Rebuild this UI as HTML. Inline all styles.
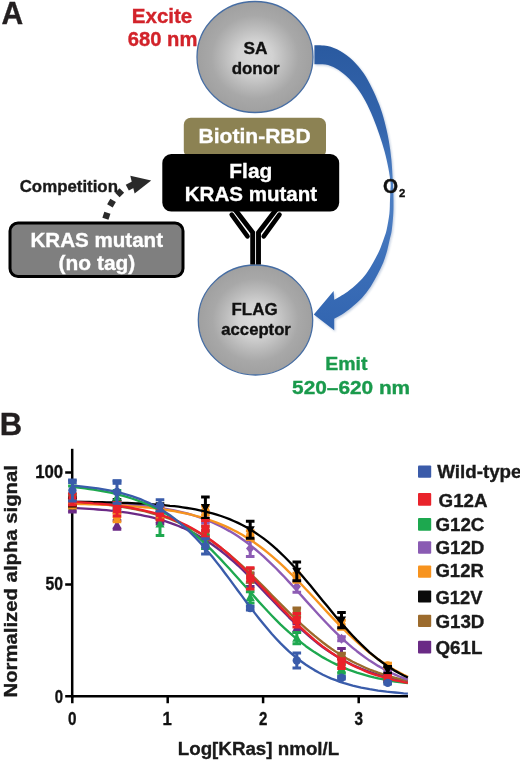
<!DOCTYPE html>
<html><head><meta charset="utf-8"><title>Figure</title>
<style>
html,body{margin:0;padding:0;background:#fff;}
svg{display:block;}
text{font-family:"Liberation Sans",Arial,Helvetica,sans-serif;font-weight:bold;}
</style></head><body>
<svg width="520" height="762" viewBox="0 0 520 762">
<defs>
<radialGradient id="bead" cx="50%" cy="50%" r="50%">
<stop offset="0" stop-color="#dadada"/><stop offset="0.3" stop-color="#d2d2d2"/><stop offset="0.55" stop-color="#bababa"/><stop offset="0.75" stop-color="#a8a8a8"/><stop offset="1" stop-color="#a0a0a0"/>
</radialGradient>
<linearGradient id="blu" gradientUnits="userSpaceOnUse" x1="0" y1="45" x2="0" y2="330">
<stop offset="0" stop-color="#2a5aa0"/><stop offset="0.3" stop-color="#3465ad"/><stop offset="0.48" stop-color="#4d80c4"/><stop offset="0.6" stop-color="#4a7cc1"/><stop offset="0.8" stop-color="#3a6db7"/><stop offset="1" stop-color="#3265b0"/>
</linearGradient>
<filter id="sh" x="-10%" y="-10%" width="120%" height="120%"><feGaussianBlur stdDeviation="1.2"/></filter>
</defs>
<rect width="520" height="762" fill="#fff"/>
<!-- Panel A -->
<text transform="translate(1.60 23.8) scale(0.939 1)" font-size="32" fill="#231f20" stroke="#231f20" stroke-width="0.35">A</text>
<text transform="translate(131.77 22.6) scale(1.028 1)" font-size="20" fill="#d2232a" stroke="#d2232a" stroke-width="0.35">Excite</text>
<text transform="translate(127.80 46.3) scale(1.010 1)" font-size="20" fill="#d2232a" stroke="#d2232a" stroke-width="0.35">680 nm</text>
<!-- blue arrow -->
<path d="M314.4 45.2 C316.6 45.3,323.2 45.0,327.5 46.0 C331.8 47.0,336.0 48.5,340.2 50.9 C344.4 53.3,349.0 56.7,352.9 60.4 C356.8 64.1,360.3 68.5,363.5 73.1 C366.7 77.7,369.3 82.6,371.9 87.9 C374.5 93.2,377.2 99.2,379.3 104.8 C381.4 110.4,383.0 115.7,384.6 121.7 C386.2 127.7,387.7 134.5,388.8 140.8 C389.9 147.2,390.8 153.5,391.4 159.8 C392.0 166.2,392.4 173.9,392.7 178.9 C393.0 183.9,393.2 186.5,393.3 190.0 C393.4 193.5,393.5 196.0,393.5 200.0 C393.5 204.0,393.6 208.8,393.3 213.8 C393.0 218.8,392.4 225.6,391.8 230.0 C391.2 234.4,390.4 236.6,389.6 240.0 C388.8 243.4,388.2 246.7,387.2 250.4 C386.1 254.2,384.9 258.5,383.3 262.5 C381.7 266.5,379.6 270.6,377.5 274.6 C375.4 278.6,373.2 282.8,370.6 286.7 C368.0 290.6,365.1 294.5,361.9 298.0 C358.7 301.5,354.8 304.8,351.5 307.5 C348.2 310.2,344.9 312.5,342.0 314.4 C339.1 316.3,335.5 318.0,334.2 318.7 L334.2 330.3 L313.8 314.5 L333.6 291.1 L334.2 299.7 C336.4 298.4,343.3 294.6,347.2 291.9 C351.1 289.2,354.4 286.3,357.6 283.3 C360.8 280.3,363.6 277.2,366.2 273.7 C368.8 270.2,371.0 266.4,373.2 262.5 C375.4 258.6,377.7 254.2,379.4 250.4 C381.1 246.7,382.2 243.4,383.4 240.0 C384.6 236.6,385.6 234.4,386.6 230.0 C387.6 225.6,388.8 218.8,389.4 213.8 C390.0 208.8,389.8 204.0,390.0 200.0 C390.2 196.0,390.3 192.8,390.4 190.0 C390.5 187.2,390.9 186.7,390.6 183.1 C390.3 179.5,389.4 173.6,388.4 168.3 C387.4 163.0,386.1 157.1,384.6 151.4 C383.1 145.8,381.2 140.1,379.3 134.4 C377.4 128.8,375.3 123.0,373.0 117.5 C370.7 112.0,368.2 106.5,365.6 101.6 C363.0 96.7,360.3 92.1,357.1 87.9 C353.9 83.7,350.0 79.5,346.5 76.3 C343.0 73.0,339.5 70.4,336.0 68.4 C332.5 66.5,329.0 65.3,325.4 64.6 C321.8 63.9,316.2 64.3,314.4 64.2 Z" fill="#2a5596" opacity="0.28" transform="translate(1.2 1.4)" filter="url(#sh)"/>
<path d="M314.4 45.2 C316.6 45.3,323.2 45.0,327.5 46.0 C331.8 47.0,336.0 48.5,340.2 50.9 C344.4 53.3,349.0 56.7,352.9 60.4 C356.8 64.1,360.3 68.5,363.5 73.1 C366.7 77.7,369.3 82.6,371.9 87.9 C374.5 93.2,377.2 99.2,379.3 104.8 C381.4 110.4,383.0 115.7,384.6 121.7 C386.2 127.7,387.7 134.5,388.8 140.8 C389.9 147.2,390.8 153.5,391.4 159.8 C392.0 166.2,392.4 173.9,392.7 178.9 C393.0 183.9,393.2 186.5,393.3 190.0 C393.4 193.5,393.5 196.0,393.5 200.0 C393.5 204.0,393.6 208.8,393.3 213.8 C393.0 218.8,392.4 225.6,391.8 230.0 C391.2 234.4,390.4 236.6,389.6 240.0 C388.8 243.4,388.2 246.7,387.2 250.4 C386.1 254.2,384.9 258.5,383.3 262.5 C381.7 266.5,379.6 270.6,377.5 274.6 C375.4 278.6,373.2 282.8,370.6 286.7 C368.0 290.6,365.1 294.5,361.9 298.0 C358.7 301.5,354.8 304.8,351.5 307.5 C348.2 310.2,344.9 312.5,342.0 314.4 C339.1 316.3,335.5 318.0,334.2 318.7 L334.2 330.3 L313.8 314.5 L333.6 291.1 L334.2 299.7 C336.4 298.4,343.3 294.6,347.2 291.9 C351.1 289.2,354.4 286.3,357.6 283.3 C360.8 280.3,363.6 277.2,366.2 273.7 C368.8 270.2,371.0 266.4,373.2 262.5 C375.4 258.6,377.7 254.2,379.4 250.4 C381.1 246.7,382.2 243.4,383.4 240.0 C384.6 236.6,385.6 234.4,386.6 230.0 C387.6 225.6,388.8 218.8,389.4 213.8 C390.0 208.8,389.8 204.0,390.0 200.0 C390.2 196.0,390.3 192.8,390.4 190.0 C390.5 187.2,390.9 186.7,390.6 183.1 C390.3 179.5,389.4 173.6,388.4 168.3 C387.4 163.0,386.1 157.1,384.6 151.4 C383.1 145.8,381.2 140.1,379.3 134.4 C377.4 128.8,375.3 123.0,373.0 117.5 C370.7 112.0,368.2 106.5,365.6 101.6 C363.0 96.7,360.3 92.1,357.1 87.9 C353.9 83.7,350.0 79.5,346.5 76.3 C343.0 73.0,339.5 70.4,336.0 68.4 C332.5 66.5,329.0 65.3,325.4 64.6 C321.8 63.9,316.2 64.3,314.4 64.2 Z" fill="url(#blu)"/>
<!-- beads -->
<ellipse cx="255" cy="57" rx="58" ry="55.5" fill="url(#bead)" stroke="#466da3" stroke-width="1.3"/>
<ellipse cx="255.5" cy="320" rx="57.2" ry="55" fill="url(#bead)" stroke="#466da3" stroke-width="1.3"/>
<text transform="translate(243.40 53.8) scale(1.030 1)" font-size="16.8" fill="#111" stroke="#111" stroke-width="0.35">SA</text>
<text transform="translate(231.70 74) scale(1.006 1)" font-size="16.8" fill="#111" stroke="#111" stroke-width="0.35">donor</text>
<text transform="translate(231.49 314.5) scale(1.009 1)" font-size="16.8" fill="#111" stroke="#111" stroke-width="0.35">FLAG</text>
<text transform="translate(221.30 335) scale(0.994 1)" font-size="16.8" fill="#111" stroke="#111" stroke-width="0.35">acceptor</text>
<!-- antibody -->
<g stroke="#000" stroke-width="4.9" fill="none">
<path d="M234.6 209 L252.7 232.5 V264.5"/>
<path d="M276.6 209 L258.5 232.5 V264.5"/>
<path d="M231.7 214.6 L247.5 236.4" stroke-linecap="round" stroke-width="4.6"/>
<path d="M279.5 214.6 L263.7 236.4" stroke-linecap="round" stroke-width="4.6"/>
</g>
<!-- boxes -->
<rect x="183.8" y="117.7" width="142.2" height="40" rx="7" fill="#8c8253"/>
<text transform="translate(198.55 142.8) scale(1.053 1)" font-size="20" fill="#fff" stroke="#fff" stroke-width="0.35">Biotin-RBD</text>
<rect x="162.3" y="154" width="176.9" height="57.6" rx="9" fill="#000"/>
<text transform="translate(229.36 178.2) scale(1.044 1)" font-size="20" fill="#fff" stroke="#fff" stroke-width="0.35">Flag</text>
<text transform="translate(184.77 201.2) scale(1.027 1)" font-size="20" fill="#fff" stroke="#fff" stroke-width="0.35">KRAS mutant</text>
<rect x="10" y="223" width="173" height="53.5" rx="8" fill="#7f7f7f" stroke="#000" stroke-width="3"/>
<text transform="translate(30.47 246.6) scale(1.029 1)" font-size="20" fill="#fff" stroke="#fff" stroke-width="0.35">KRAS mutant</text>
<text transform="translate(58.55 269.6) scale(1.047 1)" font-size="20" fill="#fff" stroke="#fff" stroke-width="0.35">(no tag)</text>
<text transform="translate(19.70 192.2) scale(1.015 1)" font-size="16.6" fill="#1a1a1a" stroke="#1a1a1a" stroke-width="0.35">Competition</text>
<!-- dotted arrow -->
<g fill="#2a2a2a">
<rect x="-3.2" y="-3.2" width="6.4" height="6.4" transform="translate(106.4 215.7) rotate(-72)"/>
<rect x="-3.2" y="-3.2" width="6.4" height="6.4" transform="translate(111.5 203.2) rotate(-60)"/>
<rect x="-3.2" y="-3.2" width="6.4" height="6.4" transform="translate(119.6 192.7) rotate(-45)"/>
</g>
<path d="M127.3 187.7 L134 184.2" stroke="#2a2a2a" stroke-width="6.6" fill="none"/>
<path d="M151.2 180.4 L130.3 175.8 L134.6 193.5 Z" fill="#2a2a2a"/>
<text transform="translate(382.90 192.8) scale(0.987 1)" font-size="19.6" fill="#111" stroke="#111" stroke-width="0.35">O</text>
<text transform="translate(399.00 197.4) scale(0.971 1)" font-size="11.7" fill="#111" stroke="#111" stroke-width="0.35">2</text>
<text transform="translate(325.26 369.6) scale(1.038 1)" font-size="18.8" fill="#1a9a4c" stroke="#1a9a4c" stroke-width="0.35">Emit</text>
<text transform="translate(292.10 393.9) scale(1.107 1)" font-size="18.8" fill="#1a9a4c" stroke="#1a9a4c" stroke-width="0.35">520–620 nm</text>
<!-- Panel B -->
<text transform="translate(-0.27 434.5) scale(0.985 1)" font-size="31.5" fill="#231f20" stroke="#231f20" stroke-width="0.35">B</text>
<!-- axes -->
<g stroke="#000" stroke-width="2.5" fill="none">
<path d="M72.2 448.8V697.5"/>
<path d="M71 696.3H408"/>
<path d="M65.2 472.5H72.3M65.2 584.5H72.3M65.2 696.3H72.3"/>
<path d="M72.3 696.3V703.2M167.7 696.3V703.2M263.1 696.3V703.2M358.7 696.3V703.2"/>
</g>
<g>
<path d="M72.3 508.0 L76.5 508.2 L80.8 508.4 L85.0 508.6 L89.3 508.9 L93.5 509.2 L97.8 509.5 L102.0 509.8 L106.3 510.2 L110.5 510.6 L114.8 511.1 L119.0 511.6 L123.3 512.1 L127.5 512.7 L131.8 513.4 L136.0 514.1 L140.3 514.9 L144.5 515.8 L148.8 516.7 L153.0 517.7 L157.3 518.8 L161.5 520.0 L165.8 521.4 L170.0 522.8 L174.2 524.3 L178.5 526.0 L182.7 527.8 L187.0 529.8 L191.2 531.9 L195.5 534.1 L199.7 536.5 L204.0 539.1 L208.2 541.8 L212.5 544.7 L216.7 547.8 L221.0 551.0 L225.2 554.4 L229.5 558.0 L233.7 561.7 L238.0 565.5 L242.2 569.5 L246.5 573.6 L250.7 577.8 L255.0 582.1 L259.2 586.5 L263.5 590.9 L267.7 595.4 L271.9 599.8 L276.2 604.3 L280.4 608.7 L284.7 613.0 L288.9 617.3 L293.2 621.5 L297.4 625.6 L301.7 629.6 L305.9 633.4 L310.2 637.1 L314.4 640.6 L318.7 644.0 L322.9 647.2 L327.2 650.2 L331.4 653.1 L335.7 655.8 L339.9 658.3 L344.2 660.7 L348.4 662.9 L352.7 665.0 L356.9 666.9 L361.2 668.7 L365.4 670.3 L369.6 671.9 L373.9 673.3 L378.1 674.6 L382.4 675.8 L386.6 676.9 L390.9 677.9 L395.1 678.8 L399.4 679.6 L403.6 680.4 L407.9 681.1" fill="none" stroke="#6b2a86" stroke-width="2.35" stroke-linejoin="round"/>
<path d="M72.4 503.2V512.1M68.1 503.2h8.6M68.1 512.1h8.6" stroke="#6b2a86" stroke-width="3" fill="none"/>
<path d="M72.4 503.0L77.0 511.2L67.8 511.2Z" fill="#6b2a86"/>
<path d="M117.0 520.4V529.3M112.7 520.4h8.6M112.7 529.3h8.6" stroke="#6b2a86" stroke-width="3" fill="none"/>
<path d="M117.0 520.3L121.6 528.5L112.4 528.5Z" fill="#6b2a86"/>
<path d="M160.0 515.0V524.0M155.7 515.0h8.6M155.7 524.0h8.6" stroke="#6b2a86" stroke-width="3" fill="none"/>
<path d="M160.0 514.9L164.6 523.1L155.4 523.1Z" fill="#6b2a86"/>
<path d="M205.4 530.7V539.6M201.1 530.7h8.6M201.1 539.6h8.6" stroke="#6b2a86" stroke-width="3" fill="none"/>
<path d="M205.4 530.6L210.0 538.8L200.8 538.8Z" fill="#6b2a86"/>
<path d="M250.2 573.2V586.6M245.9 573.2h8.6M245.9 586.6h8.6" stroke="#6b2a86" stroke-width="3" fill="none"/>
<path d="M250.2 575.3L254.8 583.5L245.6 583.5Z" fill="#6b2a86"/>
<path d="M296.8 623.6V632.5M292.5 623.6h8.6M292.5 632.5h8.6" stroke="#6b2a86" stroke-width="3" fill="none"/>
<path d="M296.8 623.4L301.4 631.6L292.2 631.6Z" fill="#6b2a86"/>
<path d="M341.5 648.4V659.1M337.2 648.4h8.6M337.2 659.1h8.6" stroke="#6b2a86" stroke-width="3" fill="none"/>
<path d="M341.5 649.2L346.1 657.4L336.9 657.4Z" fill="#6b2a86"/>
<path d="M387.7 675.0V679.5M383.4 675.0h8.6M383.4 679.5h8.6" stroke="#6b2a86" stroke-width="3" fill="none"/>
<path d="M387.7 672.7L392.3 680.9L383.1 680.9Z" fill="#6b2a86"/>
<path d="M72.3 501.9 L76.5 502.2 L80.8 502.5 L85.0 502.8 L89.3 503.1 L93.5 503.4 L97.8 503.8 L102.0 504.3 L106.3 504.7 L110.5 505.2 L114.8 505.8 L119.0 506.4 L123.3 507.0 L127.5 507.8 L131.8 508.5 L136.0 509.4 L140.3 510.3 L144.5 511.2 L148.8 512.3 L153.0 513.5 L157.3 514.7 L161.5 516.0 L165.8 517.5 L170.0 519.0 L174.2 520.7 L178.5 522.5 L182.7 524.4 L187.0 526.4 L191.2 528.6 L195.5 530.9 L199.7 533.3 L204.0 535.9 L208.2 538.7 L212.5 541.6 L216.7 544.7 L221.0 547.9 L225.2 551.2 L229.5 554.7 L233.7 558.3 L238.0 562.1 L242.2 565.9 L246.5 569.9 L250.7 574.0 L255.0 578.1 L259.2 582.3 L263.5 586.6 L267.7 590.9 L271.9 595.2 L276.2 599.5 L280.4 603.8 L284.7 608.1 L288.9 612.3 L293.2 616.5 L297.4 620.5 L301.7 624.5 L305.9 628.3 L310.2 632.1 L314.4 635.7 L318.7 639.1 L322.9 642.5 L327.2 645.7 L331.4 648.7 L335.7 651.6 L339.9 654.3 L344.2 656.9 L348.4 659.4 L352.7 661.7 L356.9 663.8 L361.2 665.8 L365.4 667.7 L369.6 669.5 L373.9 671.2 L378.1 672.7 L382.4 674.1 L386.6 675.5 L390.9 676.7 L395.1 677.8 L399.4 678.9 L403.6 679.8 L407.9 680.7" fill="none" stroke="#9a6a2c" stroke-width="2.35" stroke-linejoin="round"/>
<path d="M72.4 499.4V508.3M68.1 499.4h8.6M68.1 508.3h8.6" stroke="#9a6a2c" stroke-width="3" fill="none"/>
<rect x="68.4" y="499.8" width="8" height="8" fill="#9a6a2c"/>
<path d="M117.0 503.8V512.8M112.7 503.8h8.6M112.7 512.8h8.6" stroke="#9a6a2c" stroke-width="3" fill="none"/>
<rect x="113.0" y="504.3" width="8" height="8" fill="#9a6a2c"/>
<path d="M160.0 510.5V519.5M155.7 510.5h8.6M155.7 519.5h8.6" stroke="#9a6a2c" stroke-width="3" fill="none"/>
<rect x="156.0" y="511.0" width="8" height="8" fill="#9a6a2c"/>
<path d="M205.4 526.2V539.6M201.1 526.2h8.6M201.1 539.6h8.6" stroke="#9a6a2c" stroke-width="3" fill="none"/>
<rect x="201.4" y="528.9" width="8" height="8" fill="#9a6a2c"/>
<path d="M250.2 568.7V582.2M245.9 568.7h8.6M245.9 582.2h8.6" stroke="#9a6a2c" stroke-width="3" fill="none"/>
<rect x="246.2" y="571.4" width="8" height="8" fill="#9a6a2c"/>
<path d="M296.8 607.9V616.9M292.5 607.9h8.6M292.5 616.9h8.6" stroke="#9a6a2c" stroke-width="3" fill="none"/>
<rect x="292.8" y="608.4" width="8" height="8" fill="#9a6a2c"/>
<path d="M341.5 653.3V658.7M337.2 653.3h8.6M337.2 658.7h8.6" stroke="#9a6a2c" stroke-width="3" fill="none"/>
<rect x="337.5" y="652.0" width="8" height="8" fill="#9a6a2c"/>
<path d="M387.7 673.9V678.4M383.4 673.9h8.6M383.4 678.4h8.6" stroke="#9a6a2c" stroke-width="3" fill="none"/>
<rect x="383.7" y="672.2" width="8" height="8" fill="#9a6a2c"/>
<path d="M72.3 501.8 L76.5 501.9 L80.8 502.0 L85.0 502.1 L89.3 502.3 L93.5 502.4 L97.8 502.6 L102.0 502.8 L106.3 503.0 L110.5 503.2 L114.8 503.4 L119.0 503.7 L123.3 503.9 L127.5 504.3 L131.8 504.6 L136.0 505.0 L140.3 505.4 L144.5 505.9 L148.8 506.4 L153.0 506.9 L157.3 507.5 L161.5 508.1 L165.8 508.9 L170.0 509.6 L174.2 510.5 L178.5 511.4 L182.7 512.4 L187.0 513.5 L191.2 514.7 L195.5 516.0 L199.7 517.5 L204.0 519.0 L208.2 520.6 L212.5 522.4 L216.7 524.4 L221.0 526.4 L225.2 528.7 L229.5 531.1 L233.7 533.6 L238.0 536.3 L242.2 539.2 L246.5 542.3 L250.7 545.6 L255.0 549.0 L259.2 552.6 L263.5 556.3 L267.7 560.3 L271.9 564.3 L276.2 568.5 L280.4 572.9 L284.7 577.3 L288.9 581.9 L293.2 586.5 L297.4 591.2 L301.7 595.9 L305.9 600.6 L310.2 605.4 L314.4 610.0 L318.7 614.7 L322.9 619.2 L327.2 623.7 L331.4 628.1 L335.7 632.3 L339.9 636.4 L344.2 640.4 L348.4 644.2 L352.7 647.8 L356.9 651.2 L361.2 654.5 L365.4 657.6 L369.6 660.6 L373.9 663.3 L378.1 665.9 L382.4 668.3 L386.6 670.6 L390.9 672.7 L395.1 674.6 L399.4 676.5 L403.6 678.1 L407.9 679.7" fill="none" stroke="#8d5cb4" stroke-width="2.35" stroke-linejoin="round"/>
<path d="M72.4 497.1V506.1M68.1 497.1h8.6M68.1 506.1h8.6" stroke="#8d5cb4" stroke-width="3" fill="none"/>
<path d="M72.4 496.6L76.6 501.6L72.4 506.6L68.2 501.6Z" fill="#8d5cb4"/>
<path d="M117.0 501.6V510.5M112.7 501.6h8.6M112.7 510.5h8.6" stroke="#8d5cb4" stroke-width="3" fill="none"/>
<path d="M117.0 501.1L121.2 506.1L117.0 511.1L112.8 506.1Z" fill="#8d5cb4"/>
<path d="M160.0 506.1V515.0M155.7 506.1h8.6M155.7 515.0h8.6" stroke="#8d5cb4" stroke-width="3" fill="none"/>
<path d="M160.0 505.5L164.2 510.5L160.0 515.5L155.8 510.5Z" fill="#8d5cb4"/>
<path d="M205.4 511.7V522.9M201.1 511.7h8.6M201.1 522.9h8.6" stroke="#8d5cb4" stroke-width="3" fill="none"/>
<path d="M205.4 512.3L209.6 517.3L205.4 522.3L201.2 517.3Z" fill="#8d5cb4"/>
<path d="M250.2 540.8V556.4M245.9 540.8h8.6M245.9 556.4h8.6" stroke="#8d5cb4" stroke-width="3" fill="none"/>
<path d="M250.2 543.6L254.4 548.6L250.2 553.6L246.0 548.6Z" fill="#8d5cb4"/>
<path d="M296.8 581.0V592.2M292.5 581.0h8.6M292.5 592.2h8.6" stroke="#8d5cb4" stroke-width="3" fill="none"/>
<path d="M296.8 581.6L301.0 586.6L296.8 591.6L292.6 586.6Z" fill="#8d5cb4"/>
<path d="M341.5 636.8V640.8M337.2 636.8h8.6M337.2 640.8h8.6" stroke="#8d5cb4" stroke-width="3" fill="none"/>
<path d="M341.5 633.8L345.7 638.8L341.5 643.8L337.3 638.8Z" fill="#8d5cb4"/>
<path d="M387.7 671.0V674.6M383.4 671.0h8.6M383.4 674.6h8.6" stroke="#8d5cb4" stroke-width="3" fill="none"/>
<path d="M387.7 667.8L391.9 672.8L387.7 677.8L383.5 672.8Z" fill="#8d5cb4"/>
<path d="M72.3 503.8 L76.5 503.9 L80.8 504.0 L85.0 504.1 L89.3 504.3 L93.5 504.4 L97.8 504.5 L102.0 504.7 L106.3 504.9 L110.5 505.0 L114.8 505.2 L119.0 505.5 L123.3 505.7 L127.5 506.0 L131.8 506.3 L136.0 506.6 L140.3 506.9 L144.5 507.3 L148.8 507.7 L153.0 508.2 L157.3 508.7 L161.5 509.2 L165.8 509.8 L170.0 510.5 L174.2 511.2 L178.5 512.0 L182.7 512.8 L187.0 513.7 L191.2 514.7 L195.5 515.8 L199.7 516.9 L204.0 518.2 L208.2 519.5 L212.5 521.0 L216.7 522.6 L221.0 524.3 L225.2 526.1 L229.5 528.1 L233.7 530.2 L238.0 532.4 L242.2 534.8 L246.5 537.4 L250.7 540.1 L255.0 543.0 L259.2 546.0 L263.5 549.3 L267.7 552.6 L271.9 556.2 L276.2 559.8 L280.4 563.7 L284.7 567.7 L288.9 571.8 L293.2 576.0 L297.4 580.3 L301.7 584.7 L305.9 589.2 L310.2 593.8 L314.4 598.3 L318.7 602.9 L322.9 607.5 L327.2 612.1 L331.4 616.6 L335.7 621.1 L339.9 625.5 L344.2 629.7 L348.4 633.9 L352.7 638.0 L356.9 641.9 L361.2 645.7 L365.4 649.3 L369.6 652.8 L373.9 656.1 L378.1 659.2 L382.4 662.2 L386.6 665.0 L390.9 667.7 L395.1 670.2 L399.4 672.5 L403.6 674.7 L407.9 676.8" fill="none" stroke="#f7941e" stroke-width="2.35" stroke-linejoin="round"/>
<path d="M72.4 502.7V507.2M68.1 502.7h8.6M68.1 507.2h8.6" stroke="#f7941e" stroke-width="3" fill="none"/>
<circle cx="72.4" cy="505.0" r="4.2" fill="#f7941e"/>
<path d="M117.0 512.8V521.7M112.7 512.8h8.6M112.7 521.7h8.6" stroke="#f7941e" stroke-width="3" fill="none"/>
<circle cx="117.0" cy="517.3" r="4.2" fill="#f7941e"/>
<path d="M160.0 508.3V517.3M155.7 508.3h8.6M155.7 517.3h8.6" stroke="#f7941e" stroke-width="3" fill="none"/>
<circle cx="160.0" cy="512.8" r="4.2" fill="#f7941e"/>
<path d="M205.4 506.1V515.0M201.1 506.1h8.6M201.1 515.0h8.6" stroke="#f7941e" stroke-width="3" fill="none"/>
<circle cx="205.4" cy="510.5" r="4.2" fill="#f7941e"/>
<path d="M250.2 530.7V539.6M245.9 530.7h8.6M245.9 539.6h8.6" stroke="#f7941e" stroke-width="3" fill="none"/>
<circle cx="250.2" cy="535.2" r="4.2" fill="#f7941e"/>
<path d="M296.8 573.2V582.2M292.5 573.2h8.6M292.5 582.2h8.6" stroke="#f7941e" stroke-width="3" fill="none"/>
<circle cx="296.8" cy="577.7" r="4.2" fill="#f7941e"/>
<path d="M341.5 620.2V629.2M337.2 620.2h8.6M337.2 629.2h8.6" stroke="#f7941e" stroke-width="3" fill="none"/>
<circle cx="341.5" cy="624.7" r="4.2" fill="#f7941e"/>
<path d="M387.7 663.2V667.7M383.4 663.2h8.6M383.4 667.7h8.6" stroke="#f7941e" stroke-width="3" fill="none"/>
<circle cx="387.7" cy="665.4" r="4.2" fill="#f7941e"/>
<path d="M72.3 501.8 L76.5 501.9 L80.8 501.9 L85.0 502.0 L89.3 502.0 L93.5 502.1 L97.8 502.2 L102.0 502.2 L106.3 502.3 L110.5 502.4 L114.8 502.5 L119.0 502.7 L123.3 502.8 L127.5 502.9 L131.8 503.1 L136.0 503.3 L140.3 503.5 L144.5 503.7 L148.8 504.0 L153.0 504.3 L157.3 504.6 L161.5 504.9 L165.8 505.3 L170.0 505.8 L174.2 506.2 L178.5 506.7 L182.7 507.3 L187.0 508.0 L191.2 508.7 L195.5 509.4 L199.7 510.3 L204.0 511.2 L208.2 512.3 L212.5 513.4 L216.7 514.7 L221.0 516.0 L225.2 517.5 L229.5 519.2 L233.7 521.0 L238.0 522.9 L242.2 525.0 L246.5 527.3 L250.7 529.8 L255.0 532.5 L259.2 535.4 L263.5 538.4 L267.7 541.7 L271.9 545.2 L276.2 548.9 L280.4 552.9 L284.7 557.0 L288.9 561.3 L293.2 565.8 L297.4 570.5 L301.7 575.3 L305.9 580.3 L310.2 585.3 L314.4 590.5 L318.7 595.7 L322.9 600.9 L327.2 606.1 L331.4 611.3 L335.7 616.4 L339.9 621.4 L344.2 626.3 L348.4 631.1 L352.7 635.7 L356.9 640.1 L361.2 644.4 L365.4 648.4 L369.6 652.3 L373.9 655.9 L378.1 659.3 L382.4 662.5 L386.6 665.5 L390.9 668.3 L395.1 670.9 L399.4 673.3 L403.6 675.5 L407.9 677.5" fill="none" stroke="#000000" stroke-width="2.35" stroke-linejoin="round"/>
<path d="M72.4 497.1V506.1M68.1 497.1h8.6M68.1 506.1h8.6" stroke="#000000" stroke-width="3" fill="none"/>
<path d="M72.4 506.2L77.0 498.0L67.8 498.0Z" fill="#000000"/>
<path d="M117.0 499.4V508.3M112.7 499.4h8.6M112.7 508.3h8.6" stroke="#000000" stroke-width="3" fill="none"/>
<path d="M117.0 508.4L121.6 500.2L112.4 500.2Z" fill="#000000"/>
<path d="M160.0 503.8V512.8M155.7 503.8h8.6M155.7 512.8h8.6" stroke="#000000" stroke-width="3" fill="none"/>
<path d="M160.0 512.9L164.6 504.7L155.4 504.7Z" fill="#000000"/>
<path d="M205.4 496.9V518.4M201.1 496.9h8.6M201.1 518.4h8.6" stroke="#000000" stroke-width="3" fill="none"/>
<path d="M205.4 512.2L210.0 504.0L200.8 504.0Z" fill="#000000"/>
<path d="M250.2 521.3V538.3M245.9 521.3h8.6M245.9 538.3h8.6" stroke="#000000" stroke-width="3" fill="none"/>
<path d="M250.2 534.4L254.8 526.2L245.6 526.2Z" fill="#000000"/>
<path d="M296.8 562.0V580.8M292.5 562.0h8.6M292.5 580.8h8.6" stroke="#000000" stroke-width="3" fill="none"/>
<path d="M296.8 576.0L301.4 567.8L292.2 567.8Z" fill="#000000"/>
<path d="M341.5 612.6V627.8M337.2 612.6h8.6M337.2 627.8h8.6" stroke="#000000" stroke-width="3" fill="none"/>
<path d="M341.5 624.8L346.1 616.6L336.9 616.6Z" fill="#000000"/>
<path d="M387.7 666.5V673.2M383.4 666.5h8.6M383.4 673.2h8.6" stroke="#000000" stroke-width="3" fill="none"/>
<path d="M387.7 674.5L392.3 666.3L383.1 666.3Z" fill="#000000"/>
<path d="M72.3 486.9 L76.5 487.4 L80.8 487.9 L85.0 488.4 L89.3 489.0 L93.5 489.6 L97.8 490.3 L102.0 491.0 L106.3 491.9 L110.5 492.7 L114.8 493.7 L119.0 494.8 L123.3 495.9 L127.5 497.1 L131.8 498.5 L136.0 499.9 L140.3 501.5 L144.5 503.1 L148.8 504.9 L153.0 506.9 L157.3 509.0 L161.5 511.2 L165.8 513.6 L170.0 516.2 L174.2 518.9 L178.5 521.8 L182.7 524.8 L187.0 528.0 L191.2 531.4 L195.5 535.0 L199.7 538.7 L204.0 542.6 L208.2 546.7 L212.5 550.9 L216.7 555.2 L221.0 559.6 L225.2 564.2 L229.5 568.8 L233.7 573.5 L238.0 578.3 L242.2 583.0 L246.5 587.8 L250.7 592.6 L255.0 597.4 L259.2 602.1 L263.5 606.7 L267.7 611.3 L271.9 615.7 L276.2 620.1 L280.4 624.3 L284.7 628.3 L288.9 632.2 L293.2 635.9 L297.4 639.5 L301.7 642.9 L305.9 646.2 L310.2 649.2 L314.4 652.1 L318.7 654.8 L322.9 657.4 L327.2 659.8 L331.4 662.0 L335.7 664.1 L339.9 666.1 L344.2 667.9 L348.4 669.6 L352.7 671.1 L356.9 672.6 L361.2 673.9 L365.4 675.2 L369.6 676.3 L373.9 677.4 L378.1 678.3 L382.4 679.2 L386.6 680.0 L390.9 680.8 L395.1 681.5 L399.4 682.1 L403.6 682.7 L407.9 683.2" fill="none" stroke="#1ea84f" stroke-width="2.35" stroke-linejoin="round"/>
<path d="M72.4 485.9V494.9M68.1 485.9h8.6M68.1 494.9h8.6" stroke="#1ea84f" stroke-width="3" fill="none"/>
<path d="M72.4 485.8L77.0 494.0L67.8 494.0Z" fill="#1ea84f"/>
<path d="M117.0 490.4V503.8M112.7 490.4h8.6M112.7 503.8h8.6" stroke="#1ea84f" stroke-width="3" fill="none"/>
<path d="M117.0 492.5L121.6 500.7L112.4 500.7Z" fill="#1ea84f"/>
<path d="M160.0 512.6V535.4M155.7 512.6h8.6M155.7 535.4h8.6" stroke="#1ea84f" stroke-width="3" fill="none"/>
<path d="M160.0 519.4L164.6 527.6L155.4 527.6Z" fill="#1ea84f"/>
<path d="M205.4 535.2V548.6M201.1 535.2h8.6M201.1 548.6h8.6" stroke="#1ea84f" stroke-width="3" fill="none"/>
<path d="M205.4 537.3L210.0 545.5L200.8 545.5Z" fill="#1ea84f"/>
<path d="M250.2 591.8V603.0M245.9 591.8h8.6M245.9 603.0h8.6" stroke="#1ea84f" stroke-width="3" fill="none"/>
<path d="M250.2 592.8L254.8 601.0L245.6 601.0Z" fill="#1ea84f"/>
<path d="M296.8 632.5V643.7M292.5 632.5h8.6M292.5 643.7h8.6" stroke="#1ea84f" stroke-width="3" fill="none"/>
<path d="M296.8 633.5L301.4 641.7L292.2 641.7Z" fill="#1ea84f"/>
<path d="M341.5 664.3V673.2M337.2 664.3h8.6M337.2 673.2h8.6" stroke="#1ea84f" stroke-width="3" fill="none"/>
<path d="M341.5 664.2L346.1 672.4L336.9 672.4Z" fill="#1ea84f"/>
<path d="M387.7 677.3V681.8M383.4 677.3h8.6M383.4 681.8h8.6" stroke="#1ea84f" stroke-width="3" fill="none"/>
<path d="M387.7 674.9L392.3 683.1L383.1 683.1Z" fill="#1ea84f"/>
<path d="M72.3 501.9 L76.5 502.1 L80.8 502.4 L85.0 502.6 L89.3 502.9 L93.5 503.3 L97.8 503.6 L102.0 504.0 L106.3 504.4 L110.5 504.9 L114.8 505.4 L119.0 506.0 L123.3 506.6 L127.5 507.2 L131.8 508.0 L136.0 508.8 L140.3 509.6 L144.5 510.6 L148.8 511.6 L153.0 512.7 L157.3 513.9 L161.5 515.2 L165.8 516.6 L170.0 518.2 L174.2 519.8 L178.5 521.6 L182.7 523.5 L187.0 525.6 L191.2 527.8 L195.5 530.2 L199.7 532.7 L204.0 535.4 L208.2 538.3 L212.5 541.3 L216.7 544.5 L221.0 547.8 L225.2 551.3 L229.5 555.0 L233.7 558.8 L238.0 562.8 L242.2 566.9 L246.5 571.1 L250.7 575.4 L255.0 579.8 L259.2 584.3 L263.5 588.8 L267.7 593.3 L271.9 597.9 L276.2 602.4 L280.4 606.9 L284.7 611.4 L288.9 615.8 L293.2 620.1 L297.4 624.3 L301.7 628.4 L305.9 632.3 L310.2 636.1 L314.4 639.8 L318.7 643.3 L322.9 646.6 L327.2 649.8 L331.4 652.8 L335.7 655.6 L339.9 658.3 L344.2 660.8 L348.4 663.2 L352.7 665.4 L356.9 667.4 L361.2 669.3 L365.4 671.1 L369.6 672.8 L373.9 674.3 L378.1 675.7 L382.4 677.0 L386.6 678.2 L390.9 679.3 L395.1 680.3 L399.4 681.2 L403.6 682.1 L407.9 682.9" fill="none" stroke="#ea212b" stroke-width="2.35" stroke-linejoin="round"/>
<path d="M72.4 493.8V505.0M68.1 493.8h8.6M68.1 505.0h8.6" stroke="#ea212b" stroke-width="3" fill="none"/>
<rect x="68.4" y="495.4" width="8" height="8" fill="#ea212b"/>
<path d="M117.0 502.5V515.9M112.7 502.5h8.6M112.7 515.9h8.6" stroke="#ea212b" stroke-width="3" fill="none"/>
<rect x="113.0" y="505.2" width="8" height="8" fill="#ea212b"/>
<path d="M160.0 506.5V519.9M155.7 506.5h8.6M155.7 519.9h8.6" stroke="#ea212b" stroke-width="3" fill="none"/>
<rect x="156.0" y="509.2" width="8" height="8" fill="#ea212b"/>
<path d="M205.4 520.4V537.0M201.1 520.4h8.6M201.1 537.0h8.6" stroke="#ea212b" stroke-width="3" fill="none"/>
<rect x="201.4" y="524.7" width="8" height="8" fill="#ea212b"/>
<path d="M250.2 567.8V588.9M245.9 567.8h8.6M245.9 588.9h8.6" stroke="#ea212b" stroke-width="3" fill="none"/>
<rect x="246.2" y="574.4" width="8" height="8" fill="#ea212b"/>
<path d="M296.8 613.5V626.9M292.5 613.5h8.6M292.5 626.9h8.6" stroke="#ea212b" stroke-width="3" fill="none"/>
<rect x="292.8" y="616.2" width="8" height="8" fill="#ea212b"/>
<path d="M341.5 658.7V668.5M337.2 658.7h8.6M337.2 668.5h8.6" stroke="#ea212b" stroke-width="3" fill="none"/>
<rect x="337.5" y="659.6" width="8" height="8" fill="#ea212b"/>
<path d="M387.7 675.7V681.1M383.4 675.7h8.6M383.4 681.1h8.6" stroke="#ea212b" stroke-width="3" fill="none"/>
<rect x="383.7" y="674.4" width="8" height="8" fill="#ea212b"/>
<path d="M72.3 485.6 L76.5 485.9 L80.8 486.3 L85.0 486.8 L89.3 487.3 L93.5 487.8 L97.8 488.4 L102.0 489.1 L106.3 489.8 L110.5 490.6 L114.8 491.5 L119.0 492.5 L123.3 493.6 L127.5 494.8 L131.8 496.1 L136.0 497.6 L140.3 499.2 L144.5 501.0 L148.8 502.9 L153.0 505.0 L157.3 507.2 L161.5 509.7 L165.8 512.4 L170.0 515.3 L174.2 518.4 L178.5 521.8 L182.7 525.4 L187.0 529.2 L191.2 533.3 L195.5 537.6 L199.7 542.1 L204.0 546.9 L208.2 551.9 L212.5 557.0 L216.7 562.4 L221.0 567.8 L225.2 573.5 L229.5 579.1 L233.7 584.9 L238.0 590.7 L242.2 596.4 L246.5 602.2 L250.7 607.8 L255.0 613.4 L259.2 618.8 L263.5 624.1 L267.7 629.1 L271.9 634.0 L276.2 638.7 L280.4 643.1 L284.7 647.3 L288.9 651.3 L293.2 655.0 L297.4 658.5 L301.7 661.7 L305.9 664.7 L310.2 667.5 L314.4 670.1 L318.7 672.5 L322.9 674.7 L327.2 676.7 L331.4 678.6 L335.7 680.2 L339.9 681.8 L344.2 683.2 L348.4 684.4 L352.7 685.6 L356.9 686.6 L361.2 687.6 L365.4 688.4 L369.6 689.2 L373.9 689.9 L378.1 690.6 L382.4 691.1 L386.6 691.7 L390.9 692.1 L395.1 692.5 L399.4 692.9 L403.6 693.3 L407.9 693.6" fill="none" stroke="#3a5caa" stroke-width="2.35" stroke-linejoin="round"/>
<path d="M72.4 479.9V500.9M68.1 479.9h8.6M68.1 500.9h8.6" stroke="#3a5caa" stroke-width="3" fill="none"/>
<circle cx="72.4" cy="490.4" r="4.2" fill="#3a5caa"/>
<path d="M117.0 480.8V503.2M112.7 480.8h8.6M112.7 503.2h8.6" stroke="#3a5caa" stroke-width="3" fill="none"/>
<circle cx="117.0" cy="492.0" r="4.2" fill="#3a5caa"/>
<path d="M160.0 499.8V511.0M155.7 499.8h8.6M155.7 511.0h8.6" stroke="#3a5caa" stroke-width="3" fill="none"/>
<circle cx="160.0" cy="505.4" r="4.2" fill="#3a5caa"/>
<path d="M205.4 538.7V554.0M201.1 538.7h8.6M201.1 554.0h8.6" stroke="#3a5caa" stroke-width="3" fill="none"/>
<circle cx="205.4" cy="546.4" r="4.2" fill="#3a5caa"/>
<path d="M250.2 606.3V609.9M245.9 606.3h8.6M245.9 609.9h8.6" stroke="#3a5caa" stroke-width="3" fill="none"/>
<circle cx="250.2" cy="608.1" r="4.2" fill="#3a5caa"/>
<path d="M296.8 652.9V668.1M292.5 652.9h8.6M292.5 668.1h8.6" stroke="#3a5caa" stroke-width="3" fill="none"/>
<circle cx="296.8" cy="660.5" r="4.2" fill="#3a5caa"/>
<path d="M341.5 676.4V679.1M337.2 676.4h8.6M337.2 679.1h8.6" stroke="#3a5caa" stroke-width="3" fill="none"/>
<circle cx="341.5" cy="677.7" r="4.2" fill="#3a5caa"/>
<path d="M387.7 681.8V684.0M383.4 681.8h8.6M383.4 684.0h8.6" stroke="#3a5caa" stroke-width="3" fill="none"/>
<circle cx="387.7" cy="682.9" r="4.2" fill="#3a5caa"/>
<rect x="68.1" y="479.6" width="8.6" height="4.4" fill="#3a5caa"/><rect x="112.6" y="479.6" width="8.9" height="5.2" fill="#3a5caa"/>
</g>
<text transform="translate(35.19 477.6) scale(0.910 1)" font-size="18.4" fill="#111" stroke="#111" stroke-width="0.35">100</text><text transform="translate(45.60 589.8) scale(0.855 1)" font-size="18.4" fill="#111" stroke="#111" stroke-width="0.35">50</text><text transform="translate(54.80 702.6) scale(0.810 1)" font-size="18.4" fill="#111" stroke="#111" stroke-width="0.35">0</text>
<text transform="translate(67.90 724.6) scale(0.830 1)" font-size="18.4" fill="#111" stroke="#111" stroke-width="0.35">0</text><text transform="translate(162.49 724.6) scale(0.911 1)" font-size="18.4" fill="#111" stroke="#111" stroke-width="0.35">1</text><text transform="translate(259.00 724.6) scale(0.820 1)" font-size="18.4" fill="#111" stroke="#111" stroke-width="0.35">2</text><text transform="translate(354.50 724.6) scale(0.830 1)" font-size="18.4" fill="#111" stroke="#111" stroke-width="0.35">3</text>
<text transform="translate(17 697.47) rotate(-90) scale(1.069 1)" font-size="19.0" fill="#1a1a1a" stroke="#1a1a1a" stroke-width="0.35">Normalized alpha signal</text>
<text transform="translate(177.72 755.4) scale(0.983 1)" font-size="19.1" fill="#1a1a1a" stroke="#1a1a1a" stroke-width="0.35">Log[KRas] nmol/L</text>
<rect x="418" y="465.6" width="13.2" height="12.2" rx="1" fill="#3b5ba9"/><text transform="translate(437.20 477.9) scale(1.016 1)" font-size="18.5" fill="#1a1a1a" stroke="#1a1a1a" stroke-width="0.35">Wild-type</text>
<rect x="418" y="493.1" width="13.2" height="12.7" rx="1" fill="#e9232b"/><text transform="translate(438.60 507.3) scale(1.009 1)" font-size="18.6" fill="#1a1a1a" stroke="#1a1a1a" stroke-width="0.35">G12A</text>
<rect x="418" y="518" width="13.2" height="12.7" rx="1" fill="#1da84f"/><text transform="translate(435.40 531.2) scale(1.009 1)" font-size="18.6" fill="#1a1a1a" stroke="#1a1a1a" stroke-width="0.35">G12C</text>
<rect x="418" y="541.3" width="13.2" height="12.5" rx="1" fill="#8a5bb3"/><text transform="translate(435.40 554.4) scale(1.009 1)" font-size="18.6" fill="#1a1a1a" stroke="#1a1a1a" stroke-width="0.35">G12D</text>
<rect x="418" y="565.6" width="13.2" height="12.2" rx="1" fill="#f7931e"/><text transform="translate(435.40 576.8) scale(0.999 1)" font-size="18.6" fill="#1a1a1a" stroke="#1a1a1a" stroke-width="0.35">G12R</text>
<rect x="418" y="590.5" width="13.2" height="12.1" rx="1" fill="#0a0a0a"/><text transform="translate(435.40 604.1) scale(0.989 1)" font-size="18.6" fill="#1a1a1a" stroke="#1a1a1a" stroke-width="0.35">G12V</text>
<rect x="418" y="614.7" width="13.2" height="12.2" rx="1" fill="#9c6b2d"/><text transform="translate(435.40 628) scale(1.009 1)" font-size="18.6" fill="#1a1a1a" stroke="#1a1a1a" stroke-width="0.35">G13D</text>
<rect x="418" y="640.7" width="13.2" height="12.7" rx="1" fill="#6a2a85"/><text transform="translate(435.40 654.4) scale(1.010 1)" font-size="18.6" fill="#1a1a1a" stroke="#1a1a1a" stroke-width="0.35">Q61L</text>

</svg>
</body></html>
